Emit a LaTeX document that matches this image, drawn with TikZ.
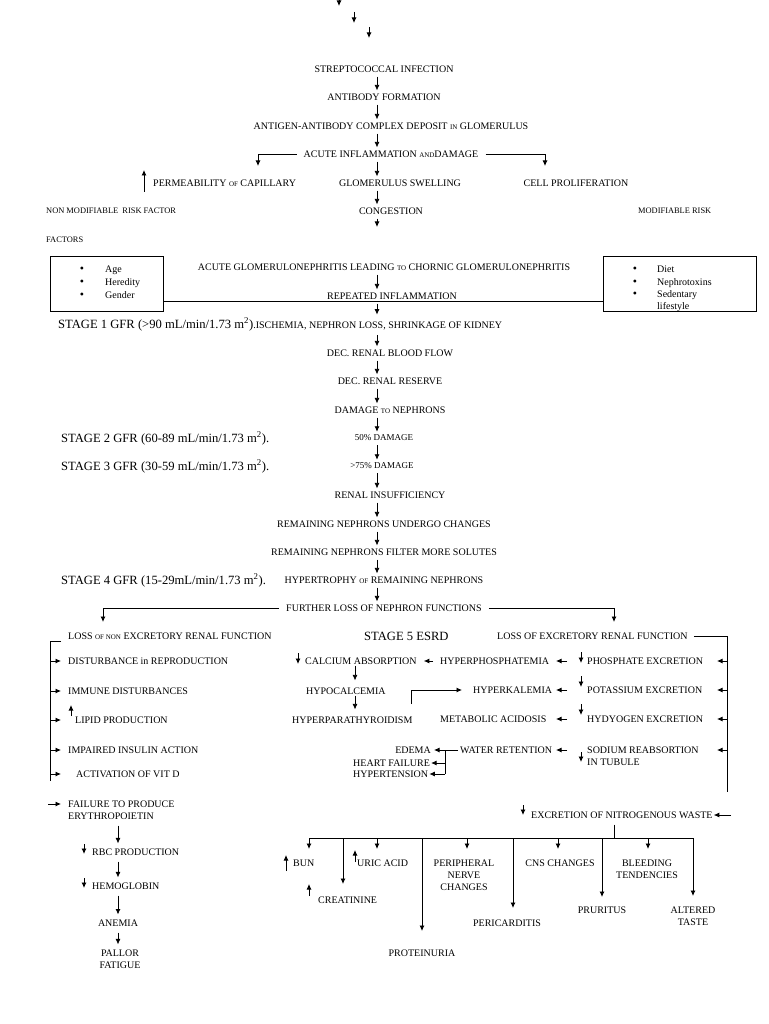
\documentclass[tikz,border=0pt]{standalone}
\usepackage{fontspec}
\setmainfont{Liberation Serif}
\usetikzlibrary{arrows.meta,calc}
\newcommand\smc[1]{{\fontsize{7}{8}\selectfont #1}}
\begin{document}
\begin{tikzpicture}[x=1pt,y=-1pt,
  every node/.style={inner sep=1pt,font=\fontsize{10}{12}\selectfont},
  lft/.style={anchor=west},
  rgt/.style={anchor=east},
  small/.style={font=\fontsize{8.4}{10}\selectfont},
  stage/.style={font=\fontsize{12.6}{14}\selectfont},
  pct/.style={font=\fontsize{9}{11}\selectfont},
  multi/.style={align=center},
  multil/.style={align=left},
  ln/.style={line width=0.8pt},
  arr/.style={ln,-{Latex[length=5.5pt,width=5pt]}},
  carr/.style={arr,shorten <=3pt,shorten >=2pt},
  barr/.style={arr,shorten <=6pt},
  box/.style={draw,line width=0.8pt,anchor=north west,inner sep=0pt},
  bul/.style={anchor=base,font=\fontsize{12}{12}\selectfont}
]
\fill[white] (0,0) rectangle (768,1024);
\useasboundingbox (0,0) rectangle (768,1024);

% top arrows
\coordinate (a0) at (339,-4); \draw[arr] (a0) -- ++(0,10);
\coordinate (a1) at (354,12); \draw[arr] (a1) -- ++(0,11);
\coordinate (a2) at (369,27); \draw[arr] (a2) -- ++(0,11);

\coordinate (mx) at (377,0);
\node (t1) at (384,69) {STREPTOCOCCAL INFECTION};
\node (t2) at (384,97) {ANTIBODY FORMATION};
\node (t3) at (391,126) {ANTIGEN-ANTIBODY COMPLEX DEPOSIT \smc{IN} GLOMERULUS};
\node (t4) at (391,154) {ACUTE INFLAMMATION \smc{AND}DAMAGE};
\node[lft] (t5) at (152,183) {PERMEABILITY \smc{OF} CAPILLARY};
\node (t6) at (400,183) {GLOMERULUS SWELLING};
\node (t7) at (576,183) {CELL PROLIFERATION};
\node (t8) at (391,211) {CONGESTION};
\coordinate (t8e) at (377,229);

\node[lft,small] (nm1) at (45,211) {NON MODIFIABLE\ \ RISK FACTOR};
\node[lft,small] (nm2) at (45,240) {FACTORS};
\node[lft,small] (mr) at (637,211) {MODIFIABLE RISK};

% risk boxes
\node[box,minimum width=113pt,minimum height=55pt] (lbox) at (50,256) {};
\node[box,minimum width=153pt,minimum height=55pt] (rbox) at (603,256) {};
\node[bul] (lb1) at (82,272) {\textbullet};
\node[bul] (lb2) at (82,285) {\textbullet};
\node[bul] (lb3) at (82,298) {\textbullet};
\node[anchor=base west] (li1) at (104,272) {Age};
\node[anchor=base west] (li2) at (104,285) {Heredity};
\node[anchor=base west] (li3) at (104,298) {Gender};
\node[bul] (rb1) at (635,272) {\textbullet};
\node[bul] (rb2) at (635,285) {\textbullet};
\node[bul] (rb3) at (635,297) {\textbullet};
\node[anchor=base west] (ri1) at (656,272) {Diet};
\node[anchor=base west] (ri2) at (656,285) {Nephrotoxins};
\node[anchor=base west] (ri3) at (656,297) {Sedentary};
\node[anchor=base west] (ri4) at (656,309) {lifestyle};

\node (t12) at (384,267) {ACUTE GLOMERULONEPHRITIS LEADING \smc{TO} CHORNIC GLOMERULONEPHRITIS};
\node (t13) at (392,296) {REPEATED INFLAMMATION};
\coordinate (hl) at (0,301);
\draw[ln] (lbox.east |- hl) -- (rbox.west |- hl);

\node[anchor=base west] (t14) at (57,328) {{\fontsize{12.6}{14}\selectfont STAGE 1 GFR (>90 mL/min/1.73 m\textsuperscript{2})}.ISCHEMIA, NEPHRON LOSS, SHRINKAGE OF KIDNEY};
\node (t15) at (390,353) {DEC. RENAL BLOOD FLOW};
\node (t16) at (390,381) {DEC. RENAL RESERVE};
\node (t17) at (390,410) {DAMAGE \smc{TO} NEPHRONS};
\node[pct] (t18) at (384,438) {50\% DAMAGE};
\node[pct] (t19) at (382,466) {>75\% DAMAGE};
\node (t20) at (390,495) {RENAL INSUFFICIENCY};
\node (t21) at (384,524) {REMAINING NEPHRONS UNDERGO CHANGES};
\node (t22) at (384,552) {REMAINING NEPHRONS FILTER MORE SOLUTES};
\node (t23) at (384,580) {HYPERTROPHY \smc{OF} REMAINING NEPHRONS};
\node (t24) at (384,608) {FURTHER LOSS OF NEPHRON FUNCTIONS};

\node[stage,anchor=base west] (s2) at (60,442) {STAGE 2 GFR (60-89 mL/min/1.73 m\textsuperscript{2}).};
\node[stage,anchor=base west] (s3) at (60,470) {STAGE 3 GFR (30-59 mL/min/1.73 m\textsuperscript{2}).};
\node[stage,anchor=base west] (s4) at (60,584) {STAGE 4 GFR (15-29mL/min/1.73 m\textsuperscript{2}).};
\node[stage,anchor=base west] (s5) at (363,640) {STAGE 5 ESRD};

% main chain arrows
\foreach \a/\b in {t1/t2,t2/t3,t3/t4,t4/t6,t6/t8,t12/t13,t13/t14,t14/t15,t15/t16,t16/t17,t17/t18,t18/t19,t19/t20,t20/t21,t21/t22,t22/t23,t23/t24}
  \draw[carr] (\a.south -| mx) -- (\b.north -| mx);
\draw[carr] (t8.south -| mx) -- (t8e);

\coordinate (bl) at (258,166);
\coordinate (br) at (545,166);
\draw[barr] (t4.west) -| (bl);
\draw[barr] (t4.east) -| (br);
\draw[arr] ($(t5.west)+(-8,9)$) -- ++(0,-22);

\coordinate (fl) at (103,622);
\coordinate (fr) at (614,622);
\draw[barr] (t24.west) -| (fl);
\draw[barr] (t24.east) -| (fr);

% left: non excretory
\node[lft] (L0) at (67,636) {LOSS \smc{OF NON} EXCRETORY RENAL FUNCTION};
\coordinate (bk) at (61,641);
\coordinate (bk0) at (50,641);
\coordinate (bk1) at (50,781);
\draw[ln] (bk) -- (bk0) -- (bk1);
\node[lft] (L1) at (67,661) {DISTURBANCE in REPRODUCTION};
\node[lft] (L2) at (67,691) {IMMUNE DISTURBANCES};
\node[lft] (L3) at (74,720) {LIPID PRODUCTION};
\node[lft] (L4) at (67,750) {IMPAIRED INSULIN ACTION};
\node[lft] (L5) at (75,774) {ACTIVATION OF VIT D};
\node[lft,multil] (L6) at (67,810) {FAILURE TO PRODUCE\\ERYTHROPOIETIN};
\coordinate (ae) at (61,0);
\foreach \n in {L1,L2,L3,L4,L5} \draw[arr] (bk0 |- \n) -- (ae |- \n);
\coordinate (l6a) at (48,804);
\draw[arr] (l6a) -- (l6a -| ae);
\draw[arr] ($(L3.west)+(-3,-4)$) -- ++(0,-11);

% anemia chain
\coordinate (ax) at (118,0);
\node[lft] (A1) at (91,852) {RBC PRODUCTION};
\node[lft] (A2) at (91,886) {HEMOGLOBIN};
\node (A3) at (118,923) {ANEMIA};
\node[multi] (A4) at (120,959) {PALLOR\\FATIGUE};
\draw[arr] ($(A1.west)+(-7,-8)$) -- ++(0,10);
\draw[arr] ($(A2.west)+(-7,-8)$) -- ++(0,10);
\foreach \a/\b in {L6/A1,A1/A2,A2/A3,A3/A4}
  \draw[carr,shorten <=5pt,shorten >=4pt] (\a.south -| ax) -- (\b.north -| ax);

% middle
\node[lft] (R0) at (496,636) {LOSS OF EXCRETORY RENAL FUNCTION};
\node[lft] (M1) at (304,661) {CALCIUM ABSORPTION};
\node[lft] (M2) at (439,661) {HYPERPHOSPHATEMIA};
\node[lft] (M3) at (586,661) {PHOSPHATE EXCRETION};
\node[lft] (M4) at (305,691) {HYPOCALCEMIA};
\node[lft] (M5) at (472,690) {HYPERKALEMIA};
\node[lft] (M6) at (586,690) {POTASSIUM EXCRETION};
\node[lft] (M7) at (291,720) {HYPERPARATHYROIDISM};
\node[lft] (M8) at (439,719) {METABOLIC ACIDOSIS};
\node[lft] (M9) at (586,719) {HYDYOGEN EXCRETION};
\node[rgt] (M10) at (432,750) {EDEMA};
\node[lft] (M11) at (352,763) {HEART FAILURE};
\node[lft] (M12) at (352,774) {HYPERTENSION};
\node[lft] (M13) at (459,750) {WATER RETENTION};
\node[lft,multil] (M14) at (586,756) {SODIUM REABSORTION\\IN TUBULE};

\coordinate (rv0) at (727,636);
\coordinate (rv1) at (727,792);
\coordinate (rt) at (717,0);
\draw[ln,shorten <=5pt] (R0.east) -- (rv0) -- (rv1);
\foreach \n in {M3,M6,M9,M13} \draw[arr] (rv0 |- \n) -- (rt |- \n);

\coordinate (lc) at (567,0);
\coordinate (lt) at (556,0);
\foreach \n in {M3,M6,M9,M13} \draw[arr] (lc |- \n) -- (lt |- \n);

\draw[arr,shorten <=6pt,shorten >=6pt] (M2.west) -- (M1.east);
\coordinate (cx) at (355,0);
\draw[arr,shorten >=6pt] (M1.south -| cx) -- (M4.north -| cx);
\draw[arr,shorten >=6pt] (M4.south -| cx) -- (M7.north -| cx);
\coordinate (e0) at (411,704);
\draw[arr,shorten >=10pt] (e0) |- (M5.west);

\draw[arr,shorten <=1pt,shorten >=2pt] (M13.west) -- (M10.east);
\coordinate (wv) at (445,750);
\draw[ln] (wv) -- (wv |- M12);
\draw[arr] (wv |- M11) -- (M11.east);
\draw[arr] (wv |- M12) -- (M12.east);

\draw[arr] ($(M1.west)+(-6,-8)$) -- ++(0,11);
\draw[arr] ($(M3.west)+(-5,-9)$) -- ++(0,11);
\draw[arr] ($(M6.west)+(-5,-14)$) -- ++(0,11);
\draw[arr] ($(M9.west)+(-5,-15)$) -- ++(0,11);
\draw[arr] ($(M14.west)+(-5,-4)$) -- ++(0,10);

% nitrogenous waste
\node[lft] (N0) at (530,815) {EXCRETION OF NITROGENOUS WASTE};
\coordinate (nw) at (731,815);
\draw[arr] (nw) -- (N0.east);
\draw[arr] ($(N0.west)+(-7,-10)$) -- ++(0,10);
\coordinate (bx) at (614,838);
\draw[ln,shorten <=5pt] (bx |- N0.south) -- (bx);
\coordinate (d1) at (309,838);
\coordinate (d2) at (343,838);
\coordinate (d3) at (377,838);
\coordinate (d4) at (422,838);
\coordinate (d5) at (467,838);
\coordinate (d6) at (513,838);
\coordinate (d7) at (558,838);
\coordinate (d8) at (602,838);
\coordinate (d9) at (648,838);
\coordinate (d10) at (693,838);
\draw[ln] (d1) -- (d10);
\draw[arr] (d1) -- ++(0,11);
\draw[arr] (d2) -- ++(0,46);
\draw[arr] (d3) -- ++(0,11);
\draw[arr] (d4) -- ++(0,93);
\draw[arr] (d5) -- ++(0,11);
\draw[arr] (d6) -- ++(0,70);
\draw[arr] (d7) -- ++(0,11);
\draw[arr] (d8) -- ++(0,59);
\draw[arr] (d9) -- ++(0,11);
\draw[arr] (d10) -- ++(0,58);

\node[lft] (B1) at (292,863) {BUN};
\node[lft] (B3) at (356,863) {URIC ACID};
\node[lft] (B2) at (317,900) {CREATININE};
\node[multi] (B4) at (464,875) {PERIPHERAL\\NERVE\\CHANGES};
\node (B5) at (560,863) {CNS CHANGES};
\node[multi] (B6) at (647,869) {BLEEDING\\TENDENCIES};
\node (B7) at (602,910) {PRURITUS};
\node[multi] (B8) at (693,916) {ALTERED\\TASTE};
\node (B9) at (507,923) {PERICARDITIS};
\node (B10) at (422,953) {PROTEINURIA};
\draw[arr] ($(B1.west)+(-6,8)$) -- ++(0,-16);
\draw[arr] ($(B3.west)+(-1,-1)$) -- ++(0,-12);
\draw[arr] ($(B2.west)+(-8,-4)$) -- ++(0,-12);
\end{tikzpicture}
\end{document}
